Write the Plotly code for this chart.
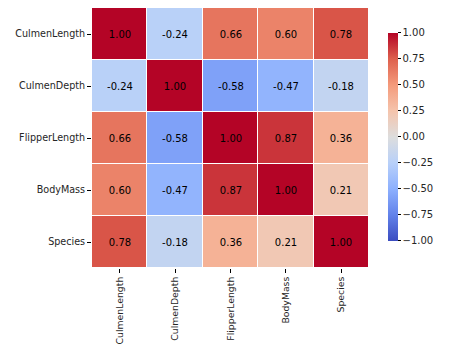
import plotly.graph_objects as go

labels = ["CulmenLength", "CulmenDepth", "FlipperLength", "BodyMass", "Species"]
corr = [
    [1.00, -0.24, 0.66, 0.60, 0.78],
    [-0.24, 1.00, -0.58, -0.47, -0.18],
    [0.66, -0.58, 1.00, 0.87, 0.36],
    [0.60, -0.47, 0.87, 1.00, 0.21],
    [0.78, -0.18, 0.36, 0.21, 1.00],
]
cbar_ticks = [-1.0, -0.75, -0.5, -0.25, 0.0, 0.25, 0.5, 0.75, 1.0]

coolwarm = [
    [0.0, "#3b4cc0"], [0.125, "#6282ea"], [0.25, "#8db0fe"], [0.375, "#b8d0f9"],
    [0.5, "#dddddd"], [0.625, "#f5c4ac"], [0.75, "#f49a7b"], [0.875, "#de604d"],
    [1.0, "#b40426"],
]

text = [[f"{v:.2f}" for v in row] for row in corr]

fig = go.Figure(go.Heatmap(
    z=corr, x=labels, y=labels, zmin=-1, zmax=1, colorscale=coolwarm,
    xgap=1, ygap=1, text=text, texttemplate="%{text}",
    textfont=dict(family="DejaVu Sans", size=10, color="black"),
    colorbar=dict(
        x=1.068, xanchor="left", y=0.504, yanchor="middle", len=0.8, lenmode="fraction",
        xpad=0, ypad=0,
        thickness=10, outlinewidth=0, tickvals=cbar_ticks,
        ticktext=[f"{t:.2f}".replace("-", "\u2212") for t in cbar_ticks],
        ticks="outside", ticklen=3, tickcolor="black",
        tickfont=dict(family="DejaVu Sans", size=10, color="#262626"),
    ),
))
fig.update_layout(
    width=474, height=348, margin=dict(l=92, r=105, t=8, b=80),
    plot_bgcolor="white", paper_bgcolor="white",
    font=dict(family="DejaVu Sans", size=10, color="#262626"),
)
fig.update_xaxes(tickangle=-90, ticks="outside", ticklen=4, tickcolor="black",
                 tickfont=dict(size=9.3), showgrid=False, automargin=False)
fig.update_yaxes(autorange="reversed", ticks="outside", ticklen=4, tickcolor="black",
                 tickfont=dict(size=9.6), showgrid=False, automargin=False)
fig.write_html("out.html")
